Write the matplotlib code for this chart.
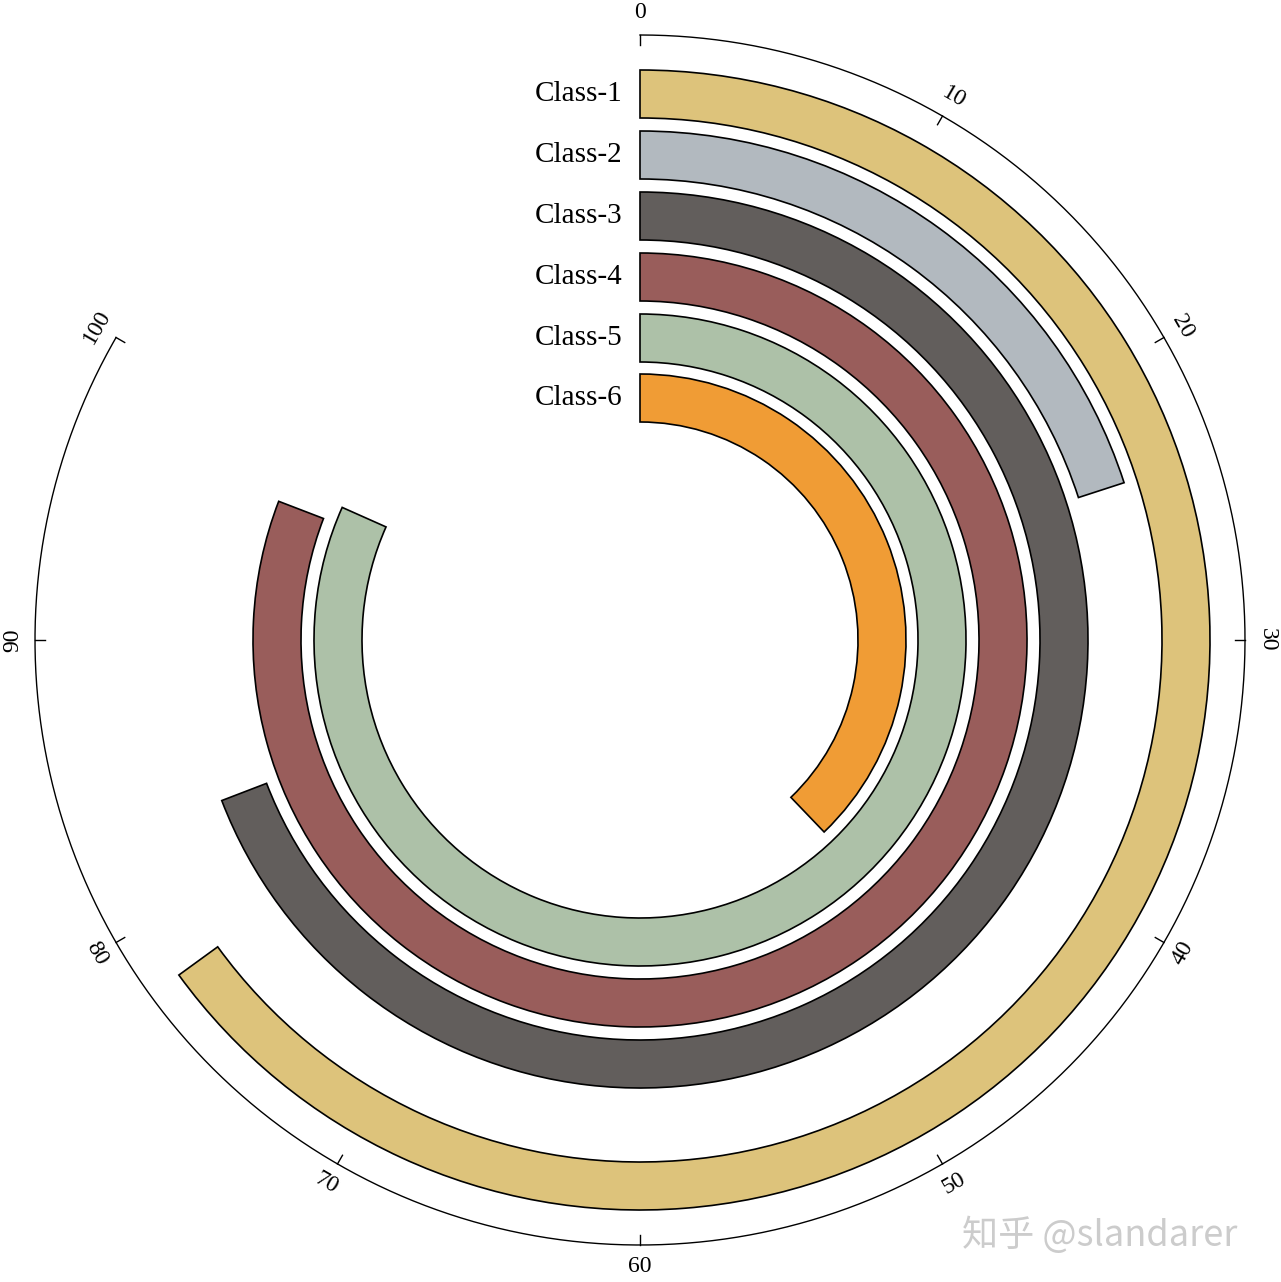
import numpy as np
import matplotlib.pyplot as plt

classes = ["Class-1", "Class-2", "Class-3", "Class-4", "Class-5", "Class-6"]
values = [78, 24, 83, 97, 98, 45.4]
colors = ["#DDC37B", "#B2B9BF", "#625E5C", "#995D5B", "#ADC1A8", "#F09C35"]
ticks = [0, 10, 20, 30, 40, 50, 60, 70, 80, 90, 100]

W, H = 1281, 1282
fig = plt.figure(figsize=(W / 100, H / 100), dpi=100)
cx, cy, R = 640, 640, 640
ax = fig.add_axes([(cx - R) / W, (H - cy - R) / H, 2 * R / W, 2 * R / H], projection="polar")
ax.set_theta_zero_location("N")
ax.set_theta_direction(-1)
ax.set_ylim(0, R)
ax.axis("off")

deg = np.pi / 180
scale = 3 * deg  # 3 degrees per unit
outer = [570, 509, 448, 387, 326, 266]
thick = 48
for name, v, c, ro in zip(classes, values, colors, outer):
    ax.bar(0, thick, width=v * scale, bottom=ro - thick, align="edge",
           color=c, edgecolor="black", linewidth=1.2)
    fig.text((cx - 18) / W, 1 - (cy - ro + thick / 2) / H, name, ha="right", va="center",
             fontsize=21, family="Liberation Serif")

# outer axis
ra = 605
th = np.linspace(0, 100 * scale, 500)
ax.plot(th, np.full_like(th, ra), color="black", lw=1)
for t in ticks:
    a = t * scale
    ax.plot([a, a], [ra, ra - 10], color="black", lw=1)
    d = t * 3
    rot = -d + 180 if 90 < d < 270 else -d
    ax.text(a, ra + 22, str(t), rotation=rot, ha="center", va="center",
            rotation_mode="anchor", fontsize=17, family="Liberation Serif")

fig.text(1100 / W, 1 - 1235 / H, "知乎 @slandarer", ha="center", va="center", fontsize=26,
         color="#cccccc", family=["Noto Sans CJK SC", "DejaVu Sans"])

fig.savefig("out.png", dpi=100)
